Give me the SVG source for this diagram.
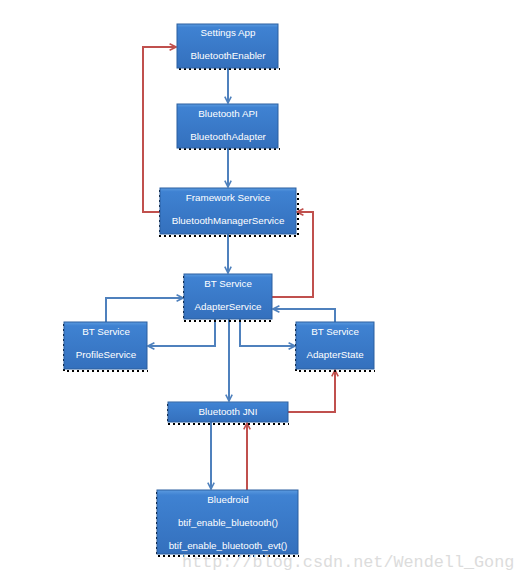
<svg xmlns="http://www.w3.org/2000/svg" width="523" height="581" viewBox="0 0 523 581">
<defs>
<linearGradient id="g" x1="0" y1="0" x2="0" y2="1">
<stop offset="0" stop-color="#5b9be0"/>
<stop offset="0.08" stop-color="#3f82d2"/>
<stop offset="1" stop-color="#3470bd"/>
</linearGradient>
<marker id="ab" viewBox="0 0 10 10" refX="9" refY="5" markerWidth="4" markerHeight="4" orient="auto">
<path d="M1,1 L9,5 L1,9" fill="none" stroke="#4f81bd" stroke-width="2"/>
</marker>
<marker id="ar" viewBox="0 0 10 10" refX="9" refY="5" markerWidth="4" markerHeight="4" orient="auto">
<path d="M1,1 L9,5 L1,9" fill="none" stroke="#c0504d" stroke-width="2"/>
</marker>
</defs>
<style>
.sh{fill:none;stroke:#000;stroke-width:2;stroke-dasharray:2,3}
.bx{fill:url(#g);stroke:#2a5f9f;stroke-width:1}
.t{font-family:"Liberation Sans",Arial,sans-serif;font-size:9.8px;fill:#fff;text-anchor:middle}
.b{fill:none;stroke:#4f81bd;stroke-width:2;marker-end:url(#ab)}
.r{fill:none;stroke:#c0504d;stroke-width:2;marker-end:url(#ar)}
.wm{font-family:"Liberation Mono","Courier New",monospace;font-size:16.8px;fill:#dcdcdc}
</style>
<rect width="523" height="581" fill="#fff"/>
<g id="connectors">
<path class="b" d="M228,68 V103"/>
<path class="b" d="M228,148 V187"/>
<path class="b" d="M228,234 V273"/>
<path class="r" d="M160,212 H143 V47 H176"/>
<path class="r" d="M272,297 H313 V212 H297"/>
<path class="b" d="M106,322 V298 H183"/>
<path class="b" d="M335,322 V309 H273"/>
<path class="b" d="M215,319 V346 H148"/>
<path class="b" d="M240,319 V346 H295"/>
<path class="b" d="M229,319 V401"/>
<path class="r" d="M288,412 H335 V370"/>
<path class="b" d="M211,422 V489"/>
<path class="r" d="M247,490 V423"/>
</g>
<g id="settings">
<path class="sh" d="M178,25 V69 H280"/>
<rect class="bx" x="177" y="24" width="101" height="44"/>
<text class="t" x="228" y="36">Settings App</text>
<text class="t" x="228" y="59">BluetoothEnabler</text>
</g>
<g id="btapi">
<path class="sh" d="M178,105 V149 H280"/>
<rect class="bx" x="177" y="104" width="101" height="44"/>
<text class="t" x="228" y="117">Bluetooth API</text>
<text class="t" x="228" y="140">BluetoothAdapter</text>
</g>
<g id="framework">
<path class="sh" d="M160,190 V236 H298 V190"/>
<rect class="bx" x="160" y="188" width="136" height="46"/>
<text class="t" x="228" y="201">Framework Service</text>
<text class="t" x="228" y="224">BluetoothManagerService</text>
</g>
<g id="adapterservice">
<path class="sh" d="M184,276 V321 H273"/>
<rect class="bx" x="184" y="274" width="88" height="45"/>
<text class="t" x="228" y="287">BT Service</text>
<text class="t" x="228" y="310">AdapterService</text>
</g>
<g id="profileservice">
<path class="sh" d="M64,324 V371 H148"/>
<rect class="bx" x="64" y="322" width="83" height="47"/>
<text class="t" x="106" y="335">BT Service</text>
<text class="t" x="106" y="358">ProfileService</text>
</g>
<g id="adapterstate">
<path class="sh" d="M296,324 V371 H375"/>
<rect class="bx" x="296" y="322" width="78" height="47"/>
<text class="t" x="335" y="335">BT Service</text>
<text class="t" x="335" y="358">AdapterState</text>
</g>
<g id="jni">
<path class="sh" d="M168,404 V424 H289"/>
<rect class="bx" x="168" y="402" width="120" height="20"/>
<text class="t" x="228" y="415">Bluetooth JNI</text>
</g>
<g id="bluedroid">
<path class="sh" d="M157,492 V556 H299"/>
<rect class="bx" x="157" y="490" width="141" height="64"/>
<text class="t" x="228" y="503">Bluedroid</text>
<text class="t" x="228" y="526">btif_enable_bluetooth()</text>
<text class="t" x="228" y="549">btif_enable_bluetooth_evt()</text>
</g>
<text class="wm" x="182" y="567">http://blog.csdn.net/Wendell_Gong</text>
</svg>
